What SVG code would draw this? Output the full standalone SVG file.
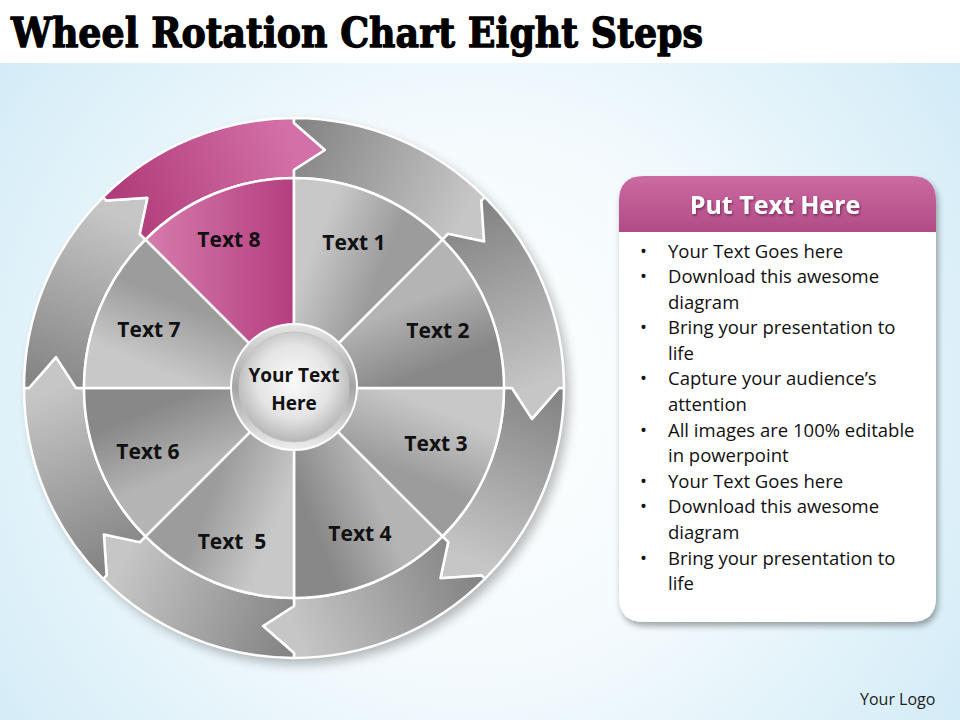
<svg xmlns="http://www.w3.org/2000/svg" xmlns:xlink="http://www.w3.org/1999/xlink" width="960" height="720" viewBox="0 0 960 720">
<style>
.sep{stroke:#ffffff;stroke-width:2.5;stroke-linejoin:round}
.lbl{font-family:"Open Sans","Liberation Sans",sans-serif;font-weight:bold;font-size:21px;fill:#111;text-anchor:middle}
.hub{font-family:"Open Sans","Liberation Sans",sans-serif;font-weight:bold;font-size:19px;fill:#111;text-anchor:middle}
.body{font-family:"Open Sans","Liberation Sans",sans-serif;font-size:18.5px;fill:#111}
</style>
<defs>
<radialGradient id="bg" cx="470" cy="400" r="620" gradientUnits="userSpaceOnUse">
<stop offset="0" stop-color="#ffffff"/><stop offset="0.45" stop-color="#f3fafd"/><stop offset="1" stop-color="#cfeaf6"/>
</radialGradient>
<linearGradient id="ringG" gradientUnits="userSpaceOnUse" x1="534" y1="388" x2="463.7" y2="557.7">
<stop offset="0" stop-color="#858585"/><stop offset="1" stop-color="#c6c6c6"/>
</linearGradient>
<linearGradient id="ringG1" xlink:href="#ringG" gradientTransform="rotate(45 294 388)"/>
<linearGradient id="ringG2" xlink:href="#ringG" gradientTransform="rotate(90 294 388)"/>
<linearGradient id="ringG3" xlink:href="#ringG" gradientTransform="rotate(135 294 388)"/>
<linearGradient id="ringG4" xlink:href="#ringG" gradientTransform="rotate(180 294 388)"/>
<linearGradient id="ringP" xlink:href="#ringG" gradientTransform="rotate(225 294 388)">
<stop offset="0" stop-color="#b03c7a"/><stop offset="1" stop-color="#d470a8"/>
</linearGradient>
<linearGradient id="ringG6" xlink:href="#ringG" gradientTransform="rotate(270 294 388)"/>
<linearGradient id="ringG7" xlink:href="#ringG" gradientTransform="rotate(315 294 388)"/>
<linearGradient id="sL" gradientUnits="userSpaceOnUse" x1="432.6" y1="407.5" x2="405.8" y2="472.3">
<stop offset="0" stop-color="#c8c8c8"/><stop offset="1" stop-color="#9c9c9c"/>
</linearGradient>
<linearGradient id="sD" gradientUnits="userSpaceOnUse" x1="432.6" y1="407.5" x2="405.8" y2="472.3">
<stop offset="0" stop-color="#b4b4b4"/><stop offset="1" stop-color="#888888"/>
</linearGradient>
<linearGradient id="s1" xlink:href="#sD" gradientTransform="rotate(45 294 388)"/>
<linearGradient id="s2" xlink:href="#sL" gradientTransform="rotate(90 294 388)"/>
<linearGradient id="s3" xlink:href="#sD" gradientTransform="rotate(135 294 388)"/>
<linearGradient id="s4" xlink:href="#sL" gradientTransform="rotate(180 294 388)"/>
<linearGradient id="sP" x1="0" y1="0" x2="1" y2="0">
<stop offset="0" stop-color="#d67cae"/><stop offset="1" stop-color="#b43e7f"/>
</linearGradient>
<linearGradient id="s6" xlink:href="#sL" gradientTransform="rotate(270 294 388)"/>
<linearGradient id="s7" xlink:href="#sD" gradientTransform="rotate(315 294 388)"/>
<linearGradient id="hubRing" x1="0" y1="0" x2="0" y2="1">
<stop offset="0" stop-color="#e4e4e4"/><stop offset="0.5" stop-color="#a4a4a4"/><stop offset="1" stop-color="#ececec"/>
</linearGradient>
<radialGradient id="hubCore" cx="0.5" cy="0.45" r="0.55">
<stop offset="0" stop-color="#fafafa"/><stop offset="0.6" stop-color="#e4e4e4"/><stop offset="1" stop-color="#b6b6b6"/>
</radialGradient>
<linearGradient id="head" x1="0" y1="0" x2="0" y2="1">
<stop offset="0" stop-color="#cc6aa2"/><stop offset="1" stop-color="#b14b86"/>
</linearGradient>
<filter id="blur" x="-20%" y="-20%" width="140%" height="140%"><feGaussianBlur stdDeviation="6"/></filter>
<filter id="pshadow" x="-10%" y="-10%" width="120%" height="120%"><feDropShadow dx="2" dy="4" stdDeviation="3" flood-color="#000" flood-opacity="0.35"/></filter>
<filter id="tshadow" x="-10%" y="-30%" width="120%" height="160%"><feDropShadow dx="1" dy="1.5" stdDeviation="1" flood-color="#4a0f30" flood-opacity="0.6"/></filter>
</defs>

<rect x="0" y="0" width="960" height="720" fill="url(#bg)"/>
<rect x="0" y="0" width="960" height="63" fill="#ffffff"/>
<text x="11" y="47" font-family="'DejaVu Serif','Liberation Serif',serif" font-weight="bold" font-size="41" textLength="692" lengthAdjust="spacingAndGlyphs" fill="#000" stroke="#000" stroke-width="1.3" stroke-linejoin="round">Wheel Rotation Chart Eight Steps</text>

<circle cx="299" cy="394" r="270" fill="#000" opacity="0.28" filter="url(#blur)"/>

<g id="connectors">
<path class="sep" fill="url(#ringG)" d="M564,388 A270,270 0 0 1 484.92,578.92 L481.38,575.38 L440.44,578.15 L448.15,542.15 L442.49,536.49 A210,210 0 0 0 504,388 L512,388 L532,418.91 L559,388 Z"/>
<path class="sep" fill="url(#ringG1)" d="M484.92,578.92 A270,270 0 0 1 294,658 L294,653 L263.09,626 L294,606 L294,598 A210,210 0 0 0 442.49,536.49 L448.15,542.15 L440.44,578.15 L481.38,575.38 Z"/>
<path class="sep" fill="url(#ringG2)" d="M294,658 A270,270 0 0 1 103.08,578.92 L106.62,575.38 L103.85,534.44 L139.85,542.15 L145.51,536.49 A210,210 0 0 0 294,598 L294,606 L263.09,626 L294,653 Z"/>
<path class="sep" fill="url(#ringG3)" d="M103.08,578.92 A270,270 0 0 1 24,388 L29,388 L56,357.09 L76,388 L84,388 A210,210 0 0 0 145.51,536.49 L139.85,542.15 L103.85,534.44 L106.62,575.38 Z"/>
<path class="sep" fill="url(#ringG4)" d="M24,388 A270,270 0 0 1 103.08,197.08 L106.62,200.62 L147.56,197.85 L139.85,233.85 L145.51,239.51 A210,210 0 0 0 84,388 L76,388 L56,357.09 L29,388 Z"/>
<path class="sep" fill="url(#ringP)" d="M103.08,197.08 A270,270 0 0 1 294,118 L294,123 L324.91,150 L294,170 L294,178 A210,210 0 0 0 145.51,239.51 L139.85,233.85 L147.56,197.85 L106.62,200.62 Z"/>
<path class="sep" fill="url(#ringG6)" d="M294,118 A270,270 0 0 1 484.92,197.08 L481.38,200.62 L484.15,241.56 L448.15,233.85 L442.49,239.51 A210,210 0 0 0 294,178 L294,170 L324.91,150 L294,123 Z"/>
<path class="sep" fill="url(#ringG7)" d="M484.92,197.08 A270,270 0 0 1 564,388 L559,388 L532,418.91 L512,388 L504,388 A210,210 0 0 0 442.49,239.51 L448.15,233.85 L484.15,241.56 L481.38,200.62 Z"/>
</g>

<g id="step3">
<path class="sep" fill="url(#sL)" d="M294,388 L504,388 A210,210 0 0 1 442.49,536.49 Z"/>
<text class="lbl" x="436" y="451">Text 3</text>
</g>
<g id="step4">
<path class="sep" fill="url(#s1)" d="M294,388 L442.49,536.49 A210,210 0 0 1 294,598 Z"/>
<text class="lbl" x="360" y="541">Text 4</text>
</g>
<g id="step5">
<path class="sep" fill="url(#s2)" d="M294,388 L294,598 A210,210 0 0 1 145.51,536.49 Z"/>
<text class="lbl" x="232" y="549" xml:space="preserve">Text  5</text>
</g>
<g id="step6">
<path class="sep" fill="url(#s3)" d="M294,388 L145.51,536.49 A210,210 0 0 1 84,388 Z"/>
<text class="lbl" x="148" y="459">Text 6</text>
</g>
<g id="step7">
<path class="sep" fill="url(#s4)" d="M294,388 L84,388 A210,210 0 0 1 145.51,239.51 Z"/>
<text class="lbl" x="149" y="337">Text 7</text>
</g>
<g id="step8">
<path class="sep" fill="url(#sP)" d="M294,388 L145.51,239.51 A210,210 0 0 1 294,178 Z"/>
<text class="lbl" x="229" y="247">Text 8</text>
</g>
<g id="step1">
<path class="sep" fill="url(#s6)" d="M294,388 L294,178 A210,210 0 0 1 442.49,239.51 Z"/>
<text class="lbl" x="354" y="250">Text 1</text>
</g>
<g id="step2">
<path class="sep" fill="url(#s7)" d="M294,388 L442.49,239.51 A210,210 0 0 1 504,388 Z"/>
<text class="lbl" x="438" y="338">Text 2</text>
</g>

<g id="hub">
<circle cx="294" cy="387" r="64" fill="#ffffff"/>
<circle cx="294" cy="387" r="62" fill="url(#hubRing)"/>
<circle cx="294" cy="387" r="55" fill="url(#hubCore)" stroke="#c4c4c4" stroke-width="1"/>
<text class="hub" x="294" y="382">Your Text</text>
<text class="hub" x="294" y="410">Here</text>
</g>

<g id="panel">
<g filter="url(#pshadow)">
<path d="M619,232 L936,232 L936,597 Q936,622 911,622 L644,622 Q619,622 619,597 Z" fill="#ffffff"/>
<path d="M619,232 L619,201 Q619,176 644,176 L911,176 Q936,176 936,201 L936,232 Z" fill="url(#head)"/>
</g>
<text x="775" y="214" font-family="'Open Sans','Liberation Sans',sans-serif" font-weight="bold" font-size="25" fill="#ffffff" text-anchor="middle" filter="url(#tshadow)">Put Text Here</text>
<g class="body">
<text x="640" y="258">•</text><text x="668" y="258">Your Text Goes here</text>
<text x="640" y="283">•</text><text x="668" y="283">Download this awesome</text>
<text x="668" y="309">diagram</text>
<text x="640" y="334">•</text><text x="668" y="334">Bring your presentation to</text>
<text x="668" y="360">life</text>
<text x="640" y="385">•</text><text x="668" y="385">Capture your audience’s</text>
<text x="668" y="411">attention</text>
<text x="640" y="437">•</text><text x="668" y="437">All images are 100% editable</text>
<text x="668" y="462">in powerpoint</text>
<text x="640" y="488">•</text><text x="668" y="488">Your Text Goes here</text>
<text x="640" y="513">•</text><text x="668" y="513">Download this awesome</text>
<text x="668" y="539">diagram</text>
<text x="640" y="565">•</text><text x="668" y="565">Bring your presentation to</text>
<text x="668" y="590">life</text>
</g>
</g>

<text x="860" y="705" font-family="'Open Sans','Liberation Sans',sans-serif" font-size="16" fill="#222">Your Logo</text>
</svg>
